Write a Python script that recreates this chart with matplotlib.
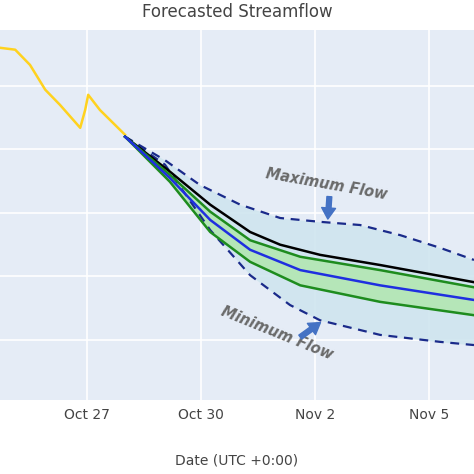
import matplotlib
matplotlib.use("Agg")
import matplotlib.pyplot as plt
import numpy as np

obs_x = [-2.29, -1.89, -1.50, -1.10, -0.71, -0.18, -0.05, 0.03, 0.34, 1.0]
obs_y = [5.60, 5.57, 5.33, 4.94, 4.70, 4.34, 4.62, 4.86, 4.62, 4.23]

max_x = [1.0, 2.05, 2.97, 4.03, 5.08, 6.13, 7.18, 8.24, 9.29, 10.18]
max_y = [4.20, 3.83, 3.44, 3.13, 2.92, 2.86, 2.81, 2.65, 2.45, 2.26]
min_x = [1.0, 2.05, 3.24, 4.29, 5.34, 6.13, 7.71, 9.29, 10.18]
min_y = [4.20, 3.76, 2.73, 2.02, 1.55, 1.31, 1.08, 0.97, 0.92]
blk_x = [1.0, 2.18, 3.24, 4.29, 5.08, 6.13, 7.71, 10.18]
blk_y = [4.20, 3.65, 3.13, 2.70, 2.50, 2.34, 2.18, 1.91]
gup_x = [1.0, 2.18, 3.24, 4.29, 5.61, 7.71, 10.18]
gup_y = [4.20, 3.60, 3.02, 2.57, 2.31, 2.10, 1.83]
blu_x = [1.0, 2.18, 3.24, 4.29, 5.61, 7.71, 10.18]
blu_y = [4.20, 3.55, 2.89, 2.42, 2.10, 1.86, 1.63]
glo_x = [1.0, 2.18, 3.24, 4.29, 5.61, 7.71, 10.18]
glo_y = [4.20, 3.49, 2.70, 2.23, 1.86, 1.60, 1.39]

tick_pos = [0, 3, 6, 9]
tick_lab = ["Oct 27", "Oct 30", "Nov 2", "Nov 5"]

fig = plt.figure(figsize=(4.74, 4.74), dpi=100)
ax = fig.add_axes([0, 74/474, 1, 370/474])
ax.set_facecolor("#E5ECF6")
for s in ax.spines.values():
    s.set_visible(False)
ax.set_xlim(-2.29, 10.18)
ax.set_ylim(0.055, 5.88)
ax.set_xticks(tick_pos)
ax.set_xticklabels(tick_lab, color="#444444", fontsize=10)
ax.set_yticks([1, 2, 3, 4, 5])
ax.set_yticklabels([])
ax.tick_params(length=0, pad=6)
ax.grid(color="white", linewidth=1.2)
ax.set_axisbelow(True)

xs = np.linspace(1.0, 10.18, 200)
ax.fill_between(xs, np.interp(xs, min_x, min_y), np.interp(xs, max_x, max_y), color="#cfe5ef", alpha=0.9, lw=0)
ax.fill_between(xs, np.interp(xs, glo_x, glo_y), np.interp(xs, gup_x, gup_y), color="#b5e6b8", lw=0)

ax.plot(obs_x, obs_y, color="#FFD21E", lw=1.8)
ax.plot(max_x, max_y, color="#1a2a8a", lw=1.6, ls=(0, (4, 3)))
ax.plot(min_x, min_y, color="#1a2a8a", lw=1.6, ls=(0, (4, 3)))
ax.plot(blk_x, blk_y, color="black", lw=1.8)
ax.plot(gup_x, gup_y, color="#1e8c1e", lw=1.8)
ax.plot(glo_x, glo_y, color="#1e8c1e", lw=1.8)
ax.plot(blu_x, blu_y, color="#1f2fe0", lw=1.8)

ax.text(6.3, 3.45, "Maximum Flow", fontsize=10.5, style="italic", color="#6a6a6a",
        rotation=-10, ha="center", va="center", fontweight="bold")
ax.annotate("", xy=(6.33, 2.86), xytext=(6.38, 3.30),
            arrowprops=dict(arrowstyle="simple,head_width=1.0,head_length=0.8,tail_width=0.35", color="#4472C4"))
ax.text(5.0, 1.1, "Minimum Flow", fontsize=10.5, style="italic", color="#6a6a6a",
        rotation=-22, ha="center", va="center", fontweight="bold")
ax.annotate("", xy=(6.2, 1.3), xytext=(5.55, 1.02),
            arrowprops=dict(arrowstyle="simple,head_width=1.0,head_length=0.8,tail_width=0.35", color="#4472C4"))

fig.text(0.5, 1 - 12/474, "Forecasted Streamflow", ha="center", va="center", fontsize=12, color="#444444")
fig.text(0.5, 1 - 460/474, "Date (UTC +0:00)", ha="center", va="center", fontsize=10, color="#444444")
fig.savefig("out.png", dpi=100)
